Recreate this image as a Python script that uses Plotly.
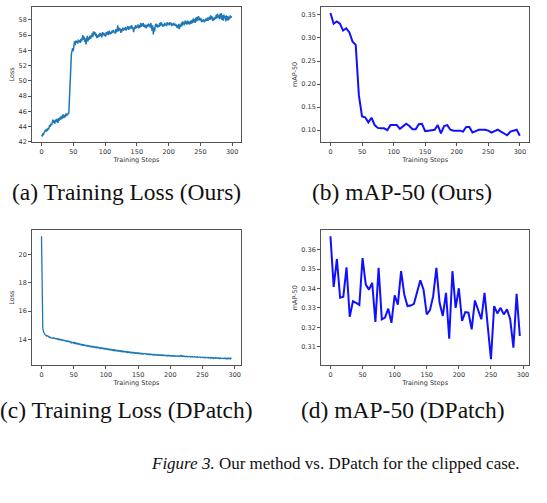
import plotly.graph_objects as go

# (a) training loss, ours - one value per step
loss_ours = [
    42.9, 42.8, 43.0, 42.9, 43.2, 43.3, 43.5, 43.4, 43.6, 43.5,
    43.7, 43.6, 43.9, 44.2, 44.0, 44.4, 44.2, 44.6, 44.9, 44.5,
    44.8, 44.4, 44.9, 44.6, 45.0, 44.7, 44.5, 45.1, 44.8, 45.2,
    44.9, 45.4, 45.0, 45.3, 45.6, 45.1, 45.5, 45.2, 45.7, 45.4,
    45.6, 45.5, 45.8, 45.7, 47.8, 51.0, 52.6, 53.5, 53.9, 54.3,
    53.9, 54.6, 55.2, 54.7, 55.3, 55.0, 55.2, 54.9, 55.4, 55.1,
    55.3, 55.0, 55.5, 55.2, 55.6, 56.0, 55.4, 55.8, 55.1, 55.6,
    54.8, 55.5, 55.9, 55.2, 55.7, 55.4, 55.9, 55.5, 56.0, 55.7,
    56.3, 55.8, 56.5, 56.1, 56.4, 55.9, 56.2, 55.6, 56.0, 55.7,
    56.1, 55.8, 56.3, 55.9, 56.2, 55.7, 56.4, 56.0, 56.3, 55.9,
    56.2, 55.8, 56.4, 56.1, 56.5, 56.0, 56.3, 56.6, 56.1, 56.4,
    56.2, 56.6, 56.3, 56.7, 56.4, 56.5, 56.2, 56.8, 56.4, 56.6,
    57.3, 56.5, 57.0, 56.6, 56.9, 56.3, 56.8, 56.5, 57.0, 56.6,
    56.9, 56.7, 57.1, 56.6, 57.0, 56.8, 57.2, 56.7, 57.1, 56.8,
    57.2, 56.9, 57.3, 56.8, 57.0, 56.4, 57.1, 56.8, 57.3, 56.9,
    57.2, 57.0, 57.4, 56.9, 57.3, 57.0, 57.6, 57.1, 57.5, 57.2,
    57.6, 57.1, 57.4, 57.0, 57.3, 56.9, 57.4, 57.1, 57.5, 57.2,
    57.4, 57.0, 57.6, 57.2, 56.6, 57.3, 56.1, 57.0, 56.5, 57.2,
    57.5, 57.1, 57.4, 57.0, 57.3, 57.1, 57.6, 57.2, 57.7, 57.3,
    57.5, 57.1, 57.4, 57.2, 57.6, 57.3, 57.5, 57.2, 57.7, 57.4,
    57.6, 57.3, 57.7, 57.4, 57.6, 57.2, 57.5, 57.3, 57.6, 57.4,
    57.5, 57.2, 57.4, 57.0, 57.3, 56.9, 57.5, 56.8, 57.4, 57.1,
    57.6, 57.2, 57.8, 57.4, 57.7, 57.3, 57.9, 57.5, 57.8, 57.4,
    57.9, 57.5, 57.8, 57.4, 57.7, 57.9, 57.5, 58.0, 57.6, 58.2,
    57.7, 58.1, 57.6, 58.3, 57.8, 58.4, 57.9, 58.5, 58.0, 58.3,
    57.9, 58.2, 57.7, 58.0, 57.8, 58.1, 57.7, 58.0, 57.8, 58.2,
    57.9, 58.3, 57.9, 58.1, 58.4, 58.0, 58.6, 58.1, 58.5, 58.0,
    57.9, 58.3, 58.0, 58.4, 58.1, 58.7, 58.2, 58.8, 58.3, 58.6,
    58.1, 58.8, 58.2, 58.9, 58.0, 58.6, 57.9, 58.7, 58.2, 58.5,
    57.8, 58.6, 58.0, 58.5, 57.9, 58.4, 58.1, 58.6, 58.3, 58.5,
]

# (b) mAP-50, ours - every 5 steps
map_ours_steps = list(range(0, 301, 5))
map_ours = [
    0.354, 0.331, 0.336, 0.331, 0.316, 0.321, 0.312, 0.292, 0.285, 0.176,
    0.130, 0.128, 0.117, 0.127, 0.111, 0.105, 0.104, 0.104, 0.100, 0.111,
    0.111, 0.111, 0.103, 0.109, 0.114, 0.109, 0.102, 0.102, 0.113, 0.114,
    0.098, 0.099, 0.100, 0.101, 0.111, 0.093, 0.109, 0.111, 0.101, 0.099,
    0.099, 0.099, 0.097, 0.107, 0.107, 0.095, 0.098, 0.101, 0.101, 0.101,
    0.099, 0.095, 0.098, 0.101, 0.097, 0.093, 0.089, 0.097, 0.099, 0.101,
    0.088,
]

# (c) training loss, DPatch - one value per step
loss_dpatch = [
    21.30, 15.40, 14.80, 14.55, 14.42, 14.38, 14.30, 14.28, 14.22, 14.25,
    14.18, 14.20, 14.14, 14.17, 14.12, 14.10, 14.13, 14.08, 14.11, 14.06,
    14.09, 14.04, 14.06, 14.02, 14.05, 14.00, 14.03, 13.98, 14.01, 13.96,
    13.99, 13.94, 13.97, 13.92, 13.95, 13.90, 13.93, 13.88, 13.91, 13.86,
    13.89, 13.84, 13.87, 13.82, 13.85, 13.80, 13.74, 13.81, 13.76, 13.79,
    13.72, 13.77, 13.70, 13.75, 13.68, 13.72, 13.66, 13.70, 13.64, 13.68,
    13.63, 13.66, 13.60, 13.64, 13.58, 13.62, 13.57, 13.60, 13.55, 13.58,
    13.53, 13.57, 13.51, 13.55, 13.49, 13.53, 13.48, 13.52, 13.46, 13.50,
    13.45, 13.49, 13.43, 13.47, 13.42, 13.46, 13.40, 13.44, 13.39, 13.43,
    13.37, 13.41, 13.36, 13.40, 13.34, 13.38, 13.33, 13.37, 13.31, 13.35,
    13.30, 13.34, 13.28, 13.32, 13.27, 13.31, 13.25, 13.29, 13.24, 13.28,
    13.22, 13.27, 13.21, 13.25, 13.19, 13.24, 13.18, 13.22, 13.17, 13.21,
    13.16, 13.20, 13.14, 13.19, 13.13, 13.17, 13.12, 13.16, 13.11, 13.15,
    13.10, 13.14, 13.08, 13.13, 13.07, 13.11, 13.06, 13.10, 13.05, 13.09,
    13.04, 13.08, 13.03, 13.07, 13.02, 13.06, 13.01, 13.05, 13.00, 13.04,
    12.99, 13.03, 12.98, 13.02, 12.97, 13.01, 12.96, 13.00, 12.95, 12.99,
    12.95, 12.98, 12.94, 12.97, 12.93, 12.97, 12.92, 12.96, 12.91, 12.95,
    12.91, 12.94, 12.90, 12.93, 12.89, 12.93, 12.88, 12.92, 12.88, 12.91,
    12.87, 12.91, 12.87, 12.90, 12.86, 12.90, 12.85, 12.89, 12.85, 12.88,
    12.84, 12.88, 12.84, 12.87, 12.83, 12.87, 12.83, 12.86, 12.82, 12.86,
    12.82, 12.85, 12.81, 12.85, 12.81, 12.84, 12.80, 12.84, 12.80, 12.83,
    12.80, 12.83, 12.79, 12.83, 12.79, 12.82, 12.86, 12.80, 12.84, 12.79,
    12.82, 12.78, 12.81, 12.77, 12.80, 12.77, 12.80, 12.76, 12.79, 12.76,
    12.79, 12.75, 12.78, 12.75, 12.78, 12.74, 12.77, 12.74, 12.77, 12.73,
    12.76, 12.73, 12.76, 12.72, 12.75, 12.72, 12.75, 12.71, 12.74, 12.71,
    12.74, 12.70, 12.73, 12.70, 12.73, 12.69, 12.72, 12.69, 12.72, 12.68,
    12.72, 12.68, 12.71, 12.67, 12.71, 12.67, 12.70, 12.64, 12.69, 12.66,
    12.70, 12.66, 12.69, 12.65, 12.69, 12.65, 12.68, 12.64, 12.68, 12.64,
    12.67, 12.64, 12.67, 12.63, 12.67, 12.63, 12.66, 12.62, 12.66, 12.62,
    12.66, 12.62, 12.65, 12.61, 12.68, 12.63,
]

# (d) mAP-50, DPatch - every 5 steps
map_dpatch_steps = list(range(0, 296, 5))
map_dpatch = [
    0.3669, 0.3408, 0.3552, 0.3352, 0.3357, 0.3509, 0.3254, 0.3334, 0.3326, 0.3315,
    0.3557, 0.3420, 0.3394, 0.3429, 0.3227, 0.3506, 0.3241, 0.3250, 0.3296, 0.3223,
    0.3364, 0.3317, 0.3489, 0.3369, 0.3309, 0.3312, 0.3321, 0.3377, 0.3442, 0.3394,
    0.3266, 0.3288, 0.3360, 0.3506, 0.3326, 0.3258, 0.3377, 0.3141, 0.3489, 0.3300,
    0.3401, 0.3232, 0.3278, 0.3275, 0.3189, 0.3338, 0.3288, 0.3241, 0.3377, 0.3223,
    0.3035, 0.3309, 0.3271, 0.3300, 0.3266, 0.3292, 0.3241, 0.3095, 0.3372, 0.3155,
]

x_ticks = [0, 50, 100, 150, 200, 250, 300]
captions = [
    "(a) Training Loss (Ours)",
    "(b) mAP-50 (Ours)",
    "(c) Training Loss (DPatch)",
    "(d) mAP-50 (DPatch)",
]
figure_caption = "<i>Figure 3.</i> Our method vs. DPatch for the clipped case."

W, H = 547, 503


def padded(vals):
    # matplotlib-like 5% autoscale margin
    lo, hi = min(vals), max(vals)
    span = hi - lo
    return [lo - 0.05 * span, hi + 0.05 * span]


# panel boxes in pixels: (left, right, top, bottom)
boxes = [
    (32, 241, 7, 143),
    (321, 529.3, 7, 143),
    (32, 241, 232, 368),
    (321, 529.3, 232, 368.3),
]

panels = [
    (list(range(len(loss_ours))), loss_ours, "#1f77b4", 1.5, "Loss", [42, 44, 46, 48, 50, 52, 54, 56, 58], None),
    (map_ours_steps, map_ours, "#1010ff", 2, "mAP-50", [0.10, 0.15, 0.20, 0.25, 0.30, 0.35], ".2f"),
    (list(range(len(loss_dpatch))), loss_dpatch, "#1f77b4", 1.3, "Loss", [14, 16, 18, 20], None),
    (map_dpatch_steps, map_dpatch, "#1010ff", 2, "mAP-50", [0.31, 0.32, 0.33, 0.34, 0.35, 0.36], ".2f"),
]

tick_font = dict(family="DejaVu Sans", size=6.5, color="#333333")

fig = go.Figure()
layout = {}
for i, ((xs, ys, color, lw, ytitle, yticks, fmt), (l, r, t, b)) in enumerate(zip(panels, boxes)):
    n = "" if i == 0 else str(i + 1)
    fig.add_trace(go.Scatter(
        x=xs, y=ys, mode="lines",
        line=dict(color=color, width=lw),
        xaxis="x" + n, yaxis="y" + n,
        showlegend=False,
    ))
    axis_common = dict(
        showline=True, mirror=True, linecolor="#555555", linewidth=0.8,
        showgrid=False, zeroline=False, ticks="outside", ticklen=3,
        tickcolor="#555555", tickwidth=0.8, tickfont=tick_font,
    )
    layout["xaxis" + n] = dict(
        axis_common,
        domain=[l / W, r / W], anchor="y" + n,
        range=padded(xs), tickvals=x_ticks,
        title=dict(text="Training Steps", font=tick_font, standoff=2),
    )
    layout["yaxis" + n] = dict(
        axis_common,
        domain=[1 - b / H, 1 - t / H], anchor="x" + n,
        range=padded(ys), tickvals=yticks, tickformat=fmt,
        title=dict(text=ytitle, font=tick_font, standoff=3),
    )

fig.update_layout(**layout)

cap_font = dict(family="Liberation Serif", size=23.5, color="#111111")
cap_pos = [(126, 194), (402, 194), (126, 413), (403, 413)]
for text, (cx, cy) in zip(captions, cap_pos):
    fig.add_annotation(
        text=text, x=cx / W, y=1 - cy / H, xref="paper", yref="paper",
        showarrow=False, font=cap_font, xanchor="center", yanchor="middle",
    )
fig.add_annotation(
    text=figure_caption, x=335 / W, y=1 - 467 / H, xref="paper", yref="paper",
    showarrow=False, font=dict(family="Liberation Serif", size=17, color="#111111"),
    xanchor="center", yanchor="middle",
)

fig.update_layout(
    width=W, height=H, autosize=False,
    margin=dict(l=0, r=0, t=0, b=0, pad=0),
    paper_bgcolor="white", plot_bgcolor="white",
)

# drop the default 8px page margin so the figure sits at the window's corner
fig.write_html(
    "out.html",
    config={"displayModeBar": False},
    post_script="document.body.style.margin = '0';",
)
